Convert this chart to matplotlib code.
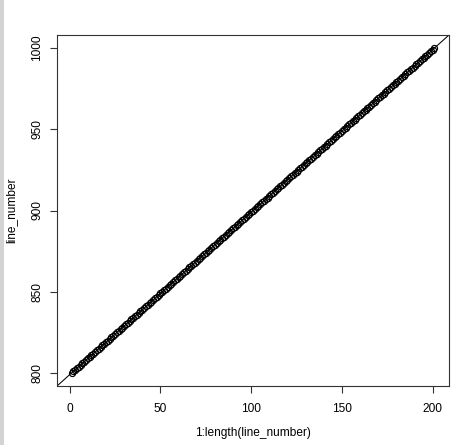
import matplotlib
matplotlib.use("Agg")
import matplotlib.pyplot as plt
import numpy as np
from matplotlib.patches import Rectangle

line_number = list(range(800, 1001))
x_index = list(range(1, len(line_number) + 1))
x_ticks = [0, 50, 100, 150, 200]
y_ticks = [800, 850, 900, 950, 1000]
abline_a, abline_b = 799, 1

W, H = 474, 445
fig = plt.figure(figsize=(W / 100, H / 100), dpi=100)
plt.rcParams['font.family'] = ['Liberation Sans', 'DejaVu Sans']

# gray strip at left edge
fig.patches.append(Rectangle((0, 0), 3.5 / W, 1, transform=fig.transFigure,
                             facecolor='#d3d3d3', edgecolor='none'))

l, r, t, b = 57, 449, 35, 386
ax = fig.add_axes([l / W, 1 - b / H, (r - l) / W, (b - t) / H])

ax.plot(x_index, line_number, linestyle='none', marker='o', markersize=4.4,
        markerfacecolor='none', markeredgecolor='black', markeredgewidth=0.85)

xmin, xmax = 1 - 0.04 * 200, 201 + 0.04 * 200
ymin, ymax = 800 - 0.04 * 200, 1000 + 0.04 * 200
xs = np.array([xmin, xmax])
ax.plot(xs, abline_a + abline_b * xs, color='black', linewidth=0.75)

ax.set_xlim(xmin, xmax)
ax.set_ylim(ymin, ymax)

for s in ax.spines.values():
    s.set_linewidth(0.8)
    s.set_color('#333333')

fs = 8.6
ax.set_xticks(x_ticks)
ax.set_yticks(y_ticks)
ax.set_xticklabels([str(v) for v in x_ticks])
ax.set_yticklabels([str(v) for v in y_ticks], rotation=90, va='center')
ax.tick_params(axis='both', length=5, width=0.8, color='#333333', labelsize=fs)
ax.tick_params(axis='x', pad=7)
ax.tick_params(axis='y', pad=5)
ax.set_xlabel('1:length(line_number)', fontsize=fs, labelpad=9)
ax.set_ylabel('line_number', fontsize=fs, labelpad=10)

fig.savefig('out.png', dpi=100)
